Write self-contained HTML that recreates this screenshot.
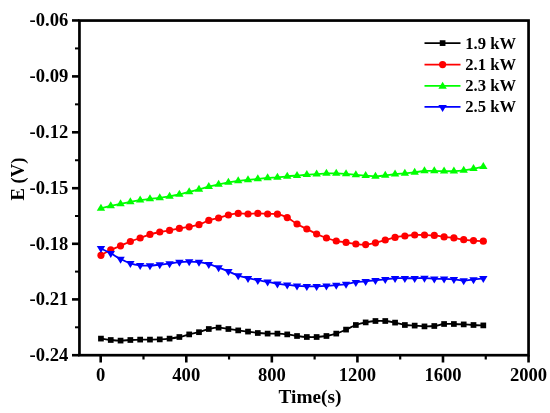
<!DOCTYPE html>
<html><head><meta charset="utf-8"><style>
html,body{margin:0;padding:0;background:#fff;}
body{width:550px;height:413px;overflow:hidden;}
svg{display:block;}
text{font-family:"Liberation Serif","Times New Roman",serif;font-weight:bold;fill:#000;}
.tl{font-size:18.6px;}
.lg{font-size:16.6px;}
.at{font-size:19.3px;}
.ay{font-size:18.6px;}
</style></head><body>
<svg width="550" height="413" viewBox="0 0 550 413">
<rect width="550" height="413" fill="#fff"/>
<path d="M100.95,338.60 C102.58,338.83 107.49,339.67 110.75,340.00 C114.02,340.33 117.29,340.60 120.56,340.60 C123.83,340.60 127.09,340.17 130.36,340.00 C133.63,339.83 136.90,339.67 140.17,339.60 C143.43,339.53 146.70,339.63 149.97,339.60 C153.24,339.57 156.51,339.57 159.77,339.40 C163.04,339.23 166.31,339.00 169.58,338.60 C172.85,338.20 176.11,337.70 179.38,337.00 C182.65,336.30 185.92,335.20 189.19,334.40 C192.45,333.60 195.72,333.10 198.99,332.20 C202.26,331.30 205.53,329.77 208.79,329.00 C212.06,328.23 215.33,327.60 218.60,327.60 C221.87,327.60 225.13,328.53 228.40,329.00 C231.67,329.47 234.94,329.97 238.21,330.40 C241.47,330.83 244.74,331.17 248.01,331.60 C251.28,332.03 254.55,332.67 257.81,333.00 C261.08,333.33 264.35,333.50 267.62,333.60 C270.89,333.70 274.15,333.47 277.42,333.60 C280.69,333.73 283.96,334.00 287.23,334.40 C290.49,334.80 293.76,335.57 297.03,336.00 C300.30,336.43 303.57,336.83 306.83,337.00 C310.10,337.17 313.37,337.17 316.64,337.00 C319.91,336.83 323.17,336.57 326.44,336.00 C329.71,335.43 332.98,334.67 336.25,333.60 C339.51,332.53 342.78,331.03 346.05,329.60 C349.32,328.17 352.59,326.20 355.85,325.00 C359.12,323.80 362.39,323.07 365.66,322.40 C368.93,321.73 372.19,321.23 375.46,321.00 C378.73,320.77 382.00,320.73 385.27,321.00 C388.53,321.27 391.80,321.93 395.07,322.60 C398.34,323.27 401.61,324.50 404.87,325.00 C408.14,325.50 411.41,325.37 414.68,325.60 C417.95,325.83 421.21,326.33 424.48,326.40 C427.75,326.47 431.02,326.40 434.29,326.00 C437.55,325.60 440.82,324.33 444.09,324.00 C447.36,323.67 450.63,323.93 453.89,324.00 C457.16,324.07 460.43,324.23 463.70,324.40 C466.97,324.57 470.23,324.83 473.50,325.00 C476.77,325.17 481.67,325.33 483.31,325.40" fill="none" stroke="#000000" stroke-width="1.8"/>
<rect x="98.10" y="335.75" width="5.7" height="5.7" fill="#000000"/>
<rect x="107.90" y="337.15" width="5.7" height="5.7" fill="#000000"/>
<rect x="117.71" y="337.75" width="5.7" height="5.7" fill="#000000"/>
<rect x="127.51" y="337.15" width="5.7" height="5.7" fill="#000000"/>
<rect x="137.32" y="336.75" width="5.7" height="5.7" fill="#000000"/>
<rect x="147.12" y="336.75" width="5.7" height="5.7" fill="#000000"/>
<rect x="156.92" y="336.55" width="5.7" height="5.7" fill="#000000"/>
<rect x="166.73" y="335.75" width="5.7" height="5.7" fill="#000000"/>
<rect x="176.53" y="334.15" width="5.7" height="5.7" fill="#000000"/>
<rect x="186.34" y="331.55" width="5.7" height="5.7" fill="#000000"/>
<rect x="196.14" y="329.35" width="5.7" height="5.7" fill="#000000"/>
<rect x="205.94" y="326.15" width="5.7" height="5.7" fill="#000000"/>
<rect x="215.75" y="324.75" width="5.7" height="5.7" fill="#000000"/>
<rect x="225.55" y="326.15" width="5.7" height="5.7" fill="#000000"/>
<rect x="235.36" y="327.55" width="5.7" height="5.7" fill="#000000"/>
<rect x="245.16" y="328.75" width="5.7" height="5.7" fill="#000000"/>
<rect x="254.96" y="330.15" width="5.7" height="5.7" fill="#000000"/>
<rect x="264.77" y="330.75" width="5.7" height="5.7" fill="#000000"/>
<rect x="274.57" y="330.75" width="5.7" height="5.7" fill="#000000"/>
<rect x="284.38" y="331.55" width="5.7" height="5.7" fill="#000000"/>
<rect x="294.18" y="333.15" width="5.7" height="5.7" fill="#000000"/>
<rect x="303.98" y="334.15" width="5.7" height="5.7" fill="#000000"/>
<rect x="313.79" y="334.15" width="5.7" height="5.7" fill="#000000"/>
<rect x="323.59" y="333.15" width="5.7" height="5.7" fill="#000000"/>
<rect x="333.40" y="330.75" width="5.7" height="5.7" fill="#000000"/>
<rect x="343.20" y="326.75" width="5.7" height="5.7" fill="#000000"/>
<rect x="353.00" y="322.15" width="5.7" height="5.7" fill="#000000"/>
<rect x="362.81" y="319.55" width="5.7" height="5.7" fill="#000000"/>
<rect x="372.61" y="318.15" width="5.7" height="5.7" fill="#000000"/>
<rect x="382.42" y="318.15" width="5.7" height="5.7" fill="#000000"/>
<rect x="392.22" y="319.75" width="5.7" height="5.7" fill="#000000"/>
<rect x="402.02" y="322.15" width="5.7" height="5.7" fill="#000000"/>
<rect x="411.83" y="322.75" width="5.7" height="5.7" fill="#000000"/>
<rect x="421.63" y="323.55" width="5.7" height="5.7" fill="#000000"/>
<rect x="431.44" y="323.15" width="5.7" height="5.7" fill="#000000"/>
<rect x="441.24" y="321.15" width="5.7" height="5.7" fill="#000000"/>
<rect x="451.04" y="321.15" width="5.7" height="5.7" fill="#000000"/>
<rect x="460.85" y="321.55" width="5.7" height="5.7" fill="#000000"/>
<rect x="470.65" y="322.15" width="5.7" height="5.7" fill="#000000"/>
<rect x="480.46" y="322.55" width="5.7" height="5.7" fill="#000000"/>
<path d="M100.95,255.30 C102.58,254.38 107.49,251.38 110.75,249.80 C114.02,248.22 117.29,247.18 120.56,245.80 C123.83,244.42 127.09,242.80 130.36,241.50 C133.63,240.20 136.90,239.18 140.17,238.00 C143.43,236.82 146.70,235.40 149.97,234.40 C153.24,233.40 156.51,232.67 159.77,232.00 C163.04,231.33 166.31,231.00 169.58,230.40 C172.85,229.80 176.11,229.00 179.38,228.40 C182.65,227.80 185.92,227.42 189.19,226.80 C192.45,226.18 195.72,225.77 198.99,224.70 C202.26,223.63 205.53,221.52 208.79,220.40 C212.06,219.28 215.33,218.90 218.60,218.00 C221.87,217.10 225.13,215.77 228.40,215.00 C231.67,214.23 234.94,213.57 238.21,213.40 C241.47,213.23 244.74,214.00 248.01,214.00 C251.28,214.00 254.55,213.40 257.81,213.40 C261.08,213.40 264.35,213.87 267.62,214.00 C270.89,214.13 274.15,213.60 277.42,214.20 C280.69,214.80 283.96,215.97 287.23,217.60 C290.49,219.23 293.76,222.10 297.03,224.00 C300.30,225.90 303.57,227.33 306.83,229.00 C310.10,230.67 313.37,232.50 316.64,234.00 C319.91,235.50 323.17,236.83 326.44,238.00 C329.71,239.17 332.98,240.27 336.25,241.00 C339.51,241.73 342.78,241.90 346.05,242.40 C349.32,242.90 352.59,243.63 355.85,244.00 C359.12,244.37 362.39,244.80 365.66,244.60 C368.93,244.40 372.19,243.57 375.46,242.80 C378.73,242.03 382.00,240.90 385.27,240.00 C388.53,239.10 391.80,238.07 395.07,237.40 C398.34,236.73 401.61,236.40 404.87,236.00 C408.14,235.60 411.41,235.17 414.68,235.00 C417.95,234.83 421.21,234.93 424.48,235.00 C427.75,235.07 431.02,235.08 434.29,235.40 C437.55,235.72 440.82,236.48 444.09,236.90 C447.36,237.32 450.63,237.43 453.89,237.90 C457.16,238.37 460.43,239.25 463.70,239.70 C466.97,240.15 470.23,240.35 473.50,240.60 C476.77,240.85 481.67,241.10 483.31,241.20" fill="none" stroke="#ff0000" stroke-width="1.8"/>
<circle cx="100.95" cy="255.30" r="3.60" fill="#ff0000"/>
<circle cx="110.75" cy="249.80" r="3.60" fill="#ff0000"/>
<circle cx="120.56" cy="245.80" r="3.60" fill="#ff0000"/>
<circle cx="130.36" cy="241.50" r="3.60" fill="#ff0000"/>
<circle cx="140.17" cy="238.00" r="3.60" fill="#ff0000"/>
<circle cx="149.97" cy="234.40" r="3.60" fill="#ff0000"/>
<circle cx="159.77" cy="232.00" r="3.60" fill="#ff0000"/>
<circle cx="169.58" cy="230.40" r="3.60" fill="#ff0000"/>
<circle cx="179.38" cy="228.40" r="3.60" fill="#ff0000"/>
<circle cx="189.19" cy="226.80" r="3.60" fill="#ff0000"/>
<circle cx="198.99" cy="224.70" r="3.60" fill="#ff0000"/>
<circle cx="208.79" cy="220.40" r="3.60" fill="#ff0000"/>
<circle cx="218.60" cy="218.00" r="3.60" fill="#ff0000"/>
<circle cx="228.40" cy="215.00" r="3.60" fill="#ff0000"/>
<circle cx="238.21" cy="213.40" r="3.60" fill="#ff0000"/>
<circle cx="248.01" cy="214.00" r="3.60" fill="#ff0000"/>
<circle cx="257.81" cy="213.40" r="3.60" fill="#ff0000"/>
<circle cx="267.62" cy="214.00" r="3.60" fill="#ff0000"/>
<circle cx="277.42" cy="214.20" r="3.60" fill="#ff0000"/>
<circle cx="287.23" cy="217.60" r="3.60" fill="#ff0000"/>
<circle cx="297.03" cy="224.00" r="3.60" fill="#ff0000"/>
<circle cx="306.83" cy="229.00" r="3.60" fill="#ff0000"/>
<circle cx="316.64" cy="234.00" r="3.60" fill="#ff0000"/>
<circle cx="326.44" cy="238.00" r="3.60" fill="#ff0000"/>
<circle cx="336.25" cy="241.00" r="3.60" fill="#ff0000"/>
<circle cx="346.05" cy="242.40" r="3.60" fill="#ff0000"/>
<circle cx="355.85" cy="244.00" r="3.60" fill="#ff0000"/>
<circle cx="365.66" cy="244.60" r="3.60" fill="#ff0000"/>
<circle cx="375.46" cy="242.80" r="3.60" fill="#ff0000"/>
<circle cx="385.27" cy="240.00" r="3.60" fill="#ff0000"/>
<circle cx="395.07" cy="237.40" r="3.60" fill="#ff0000"/>
<circle cx="404.87" cy="236.00" r="3.60" fill="#ff0000"/>
<circle cx="414.68" cy="235.00" r="3.60" fill="#ff0000"/>
<circle cx="424.48" cy="235.00" r="3.60" fill="#ff0000"/>
<circle cx="434.29" cy="235.40" r="3.60" fill="#ff0000"/>
<circle cx="444.09" cy="236.90" r="3.60" fill="#ff0000"/>
<circle cx="453.89" cy="237.90" r="3.60" fill="#ff0000"/>
<circle cx="463.70" cy="239.70" r="3.60" fill="#ff0000"/>
<circle cx="473.50" cy="240.60" r="3.60" fill="#ff0000"/>
<circle cx="483.31" cy="241.20" r="3.60" fill="#ff0000"/>
<path d="M100.95,208.37 C102.58,207.97 107.49,206.72 110.75,205.97 C114.02,205.22 117.29,204.55 120.56,203.87 C123.83,203.18 127.09,202.48 130.36,201.87 C133.63,201.25 136.90,200.67 140.17,200.17 C143.43,199.67 146.70,199.25 149.97,198.87 C153.24,198.48 156.51,198.28 159.77,197.87 C163.04,197.45 166.31,196.93 169.58,196.37 C172.85,195.80 176.11,195.22 179.38,194.47 C182.65,193.72 185.92,192.70 189.19,191.87 C192.45,191.03 195.72,190.35 198.99,189.47 C202.26,188.58 205.53,187.42 208.79,186.57 C212.06,185.72 215.33,185.07 218.60,184.37 C221.87,183.67 225.13,182.95 228.40,182.37 C231.67,181.78 234.94,181.28 238.21,180.87 C241.47,180.45 244.74,180.20 248.01,179.87 C251.28,179.53 254.55,179.20 257.81,178.87 C261.08,178.53 264.35,178.12 267.62,177.87 C270.89,177.62 274.15,177.62 277.42,177.37 C280.69,177.12 283.96,176.67 287.23,176.37 C290.49,176.07 293.76,175.83 297.03,175.57 C300.30,175.30 303.57,175.00 306.83,174.77 C310.10,174.53 313.37,174.38 316.64,174.17 C319.91,173.95 323.17,173.60 326.44,173.47 C329.71,173.33 332.98,173.30 336.25,173.37 C339.51,173.43 342.78,173.60 346.05,173.87 C349.32,174.13 352.59,174.67 355.85,174.97 C359.12,175.27 362.39,175.43 365.66,175.67 C368.93,175.90 372.19,176.42 375.46,176.37 C378.73,176.32 382.00,175.72 385.27,175.37 C388.53,175.02 391.80,174.60 395.07,174.27 C398.34,173.93 401.61,173.68 404.87,173.37 C408.14,173.05 411.41,172.77 414.68,172.37 C417.95,171.97 421.21,171.20 424.48,170.97 C427.75,170.73 431.02,170.93 434.29,170.97 C437.55,171.00 440.82,171.13 444.09,171.17 C447.36,171.20 450.63,171.30 453.89,171.17 C457.16,171.03 460.43,170.78 463.70,170.37 C466.97,169.95 470.23,169.28 473.50,168.67 C476.77,168.05 481.67,167.00 483.31,166.67" fill="none" stroke="#00ff00" stroke-width="1.8"/>
<path d="M100.95,203.70L105.15,210.70L96.75,210.70Z" fill="#00ff00"/>
<path d="M110.75,201.30L114.95,208.30L106.55,208.30Z" fill="#00ff00"/>
<path d="M120.56,199.20L124.76,206.20L116.36,206.20Z" fill="#00ff00"/>
<path d="M130.36,197.20L134.56,204.20L126.16,204.20Z" fill="#00ff00"/>
<path d="M140.17,195.50L144.37,202.50L135.97,202.50Z" fill="#00ff00"/>
<path d="M149.97,194.20L154.17,201.20L145.77,201.20Z" fill="#00ff00"/>
<path d="M159.77,193.20L163.97,200.20L155.57,200.20Z" fill="#00ff00"/>
<path d="M169.58,191.70L173.78,198.70L165.38,198.70Z" fill="#00ff00"/>
<path d="M179.38,189.80L183.58,196.80L175.18,196.80Z" fill="#00ff00"/>
<path d="M189.19,187.20L193.39,194.20L184.99,194.20Z" fill="#00ff00"/>
<path d="M198.99,184.80L203.19,191.80L194.79,191.80Z" fill="#00ff00"/>
<path d="M208.79,181.90L212.99,188.90L204.59,188.90Z" fill="#00ff00"/>
<path d="M218.60,179.70L222.80,186.70L214.40,186.70Z" fill="#00ff00"/>
<path d="M228.40,177.70L232.60,184.70L224.20,184.70Z" fill="#00ff00"/>
<path d="M238.21,176.20L242.41,183.20L234.01,183.20Z" fill="#00ff00"/>
<path d="M248.01,175.20L252.21,182.20L243.81,182.20Z" fill="#00ff00"/>
<path d="M257.81,174.20L262.01,181.20L253.61,181.20Z" fill="#00ff00"/>
<path d="M267.62,173.20L271.82,180.20L263.42,180.20Z" fill="#00ff00"/>
<path d="M277.42,172.70L281.62,179.70L273.22,179.70Z" fill="#00ff00"/>
<path d="M287.23,171.70L291.43,178.70L283.03,178.70Z" fill="#00ff00"/>
<path d="M297.03,170.90L301.23,177.90L292.83,177.90Z" fill="#00ff00"/>
<path d="M306.83,170.10L311.03,177.10L302.63,177.10Z" fill="#00ff00"/>
<path d="M316.64,169.50L320.84,176.50L312.44,176.50Z" fill="#00ff00"/>
<path d="M326.44,168.80L330.64,175.80L322.24,175.80Z" fill="#00ff00"/>
<path d="M336.25,168.70L340.45,175.70L332.05,175.70Z" fill="#00ff00"/>
<path d="M346.05,169.20L350.25,176.20L341.85,176.20Z" fill="#00ff00"/>
<path d="M355.85,170.30L360.05,177.30L351.65,177.30Z" fill="#00ff00"/>
<path d="M365.66,171.00L369.86,178.00L361.46,178.00Z" fill="#00ff00"/>
<path d="M375.46,171.70L379.66,178.70L371.26,178.70Z" fill="#00ff00"/>
<path d="M385.27,170.70L389.47,177.70L381.07,177.70Z" fill="#00ff00"/>
<path d="M395.07,169.60L399.27,176.60L390.87,176.60Z" fill="#00ff00"/>
<path d="M404.87,168.70L409.07,175.70L400.67,175.70Z" fill="#00ff00"/>
<path d="M414.68,167.70L418.88,174.70L410.48,174.70Z" fill="#00ff00"/>
<path d="M424.48,166.30L428.68,173.30L420.28,173.30Z" fill="#00ff00"/>
<path d="M434.29,166.30L438.49,173.30L430.09,173.30Z" fill="#00ff00"/>
<path d="M444.09,166.50L448.29,173.50L439.89,173.50Z" fill="#00ff00"/>
<path d="M453.89,166.50L458.09,173.50L449.69,173.50Z" fill="#00ff00"/>
<path d="M463.70,165.70L467.90,172.70L459.50,172.70Z" fill="#00ff00"/>
<path d="M473.50,164.00L477.70,171.00L469.30,171.00Z" fill="#00ff00"/>
<path d="M483.31,162.00L487.51,169.00L479.11,169.00Z" fill="#00ff00"/>
<path d="M100.95,248.43 C102.58,249.25 107.49,251.57 110.75,253.33 C114.02,255.10 117.29,257.37 120.56,259.03 C123.83,260.70 127.09,262.28 130.36,263.33 C133.63,264.38 136.90,264.95 140.17,265.33 C143.43,265.72 146.70,265.75 149.97,265.63 C153.24,265.52 156.51,264.97 159.77,264.63 C163.04,264.30 166.31,264.07 169.58,263.63 C172.85,263.20 176.11,262.37 179.38,262.03 C182.65,261.70 185.92,261.62 189.19,261.63 C192.45,261.65 195.72,261.70 198.99,262.13 C202.26,262.57 205.53,263.32 208.79,264.23 C212.06,265.15 215.33,266.43 218.60,267.63 C221.87,268.83 225.13,270.10 228.40,271.43 C231.67,272.77 234.94,274.50 238.21,275.63 C241.47,276.77 244.74,277.47 248.01,278.23 C251.28,279.00 254.55,279.63 257.81,280.23 C261.08,280.83 264.35,281.23 267.62,281.83 C270.89,282.43 274.15,283.33 277.42,283.83 C280.69,284.33 283.96,284.50 287.23,284.83 C290.49,285.17 293.76,285.60 297.03,285.83 C300.30,286.07 303.57,286.17 306.83,286.23 C310.10,286.30 313.37,286.30 316.64,286.23 C319.91,286.17 323.17,286.03 326.44,285.83 C329.71,285.63 332.98,285.33 336.25,285.03 C339.51,284.73 342.78,284.50 346.05,284.03 C349.32,283.57 352.59,282.70 355.85,282.23 C359.12,281.77 362.39,281.57 365.66,281.23 C368.93,280.90 372.19,280.53 375.46,280.23 C378.73,279.93 382.00,279.77 385.27,279.43 C388.53,279.10 391.80,278.43 395.07,278.23 C398.34,278.03 401.61,278.23 404.87,278.23 C408.14,278.23 411.41,278.27 414.68,278.23 C417.95,278.20 421.21,277.95 424.48,278.03 C427.75,278.12 431.02,278.58 434.29,278.73 C437.55,278.88 440.82,278.82 444.09,278.93 C447.36,279.05 450.63,279.17 453.89,279.43 C457.16,279.70 460.43,280.52 463.70,280.53 C466.97,280.55 470.23,279.90 473.50,279.53 C476.77,279.17 481.67,278.53 483.31,278.33" fill="none" stroke="#0000ff" stroke-width="1.8"/>
<path d="M100.95,253.10L105.15,246.10L96.75,246.10Z" fill="#0000ff"/>
<path d="M110.75,258.00L114.95,251.00L106.55,251.00Z" fill="#0000ff"/>
<path d="M120.56,263.70L124.76,256.70L116.36,256.70Z" fill="#0000ff"/>
<path d="M130.36,268.00L134.56,261.00L126.16,261.00Z" fill="#0000ff"/>
<path d="M140.17,270.00L144.37,263.00L135.97,263.00Z" fill="#0000ff"/>
<path d="M149.97,270.30L154.17,263.30L145.77,263.30Z" fill="#0000ff"/>
<path d="M159.77,269.30L163.97,262.30L155.57,262.30Z" fill="#0000ff"/>
<path d="M169.58,268.30L173.78,261.30L165.38,261.30Z" fill="#0000ff"/>
<path d="M179.38,266.70L183.58,259.70L175.18,259.70Z" fill="#0000ff"/>
<path d="M189.19,266.30L193.39,259.30L184.99,259.30Z" fill="#0000ff"/>
<path d="M198.99,266.80L203.19,259.80L194.79,259.80Z" fill="#0000ff"/>
<path d="M208.79,268.90L212.99,261.90L204.59,261.90Z" fill="#0000ff"/>
<path d="M218.60,272.30L222.80,265.30L214.40,265.30Z" fill="#0000ff"/>
<path d="M228.40,276.10L232.60,269.10L224.20,269.10Z" fill="#0000ff"/>
<path d="M238.21,280.30L242.41,273.30L234.01,273.30Z" fill="#0000ff"/>
<path d="M248.01,282.90L252.21,275.90L243.81,275.90Z" fill="#0000ff"/>
<path d="M257.81,284.90L262.01,277.90L253.61,277.90Z" fill="#0000ff"/>
<path d="M267.62,286.50L271.82,279.50L263.42,279.50Z" fill="#0000ff"/>
<path d="M277.42,288.50L281.62,281.50L273.22,281.50Z" fill="#0000ff"/>
<path d="M287.23,289.50L291.43,282.50L283.03,282.50Z" fill="#0000ff"/>
<path d="M297.03,290.50L301.23,283.50L292.83,283.50Z" fill="#0000ff"/>
<path d="M306.83,290.90L311.03,283.90L302.63,283.90Z" fill="#0000ff"/>
<path d="M316.64,290.90L320.84,283.90L312.44,283.90Z" fill="#0000ff"/>
<path d="M326.44,290.50L330.64,283.50L322.24,283.50Z" fill="#0000ff"/>
<path d="M336.25,289.70L340.45,282.70L332.05,282.70Z" fill="#0000ff"/>
<path d="M346.05,288.70L350.25,281.70L341.85,281.70Z" fill="#0000ff"/>
<path d="M355.85,286.90L360.05,279.90L351.65,279.90Z" fill="#0000ff"/>
<path d="M365.66,285.90L369.86,278.90L361.46,278.90Z" fill="#0000ff"/>
<path d="M375.46,284.90L379.66,277.90L371.26,277.90Z" fill="#0000ff"/>
<path d="M385.27,284.10L389.47,277.10L381.07,277.10Z" fill="#0000ff"/>
<path d="M395.07,282.90L399.27,275.90L390.87,275.90Z" fill="#0000ff"/>
<path d="M404.87,282.90L409.07,275.90L400.67,275.90Z" fill="#0000ff"/>
<path d="M414.68,282.90L418.88,275.90L410.48,275.90Z" fill="#0000ff"/>
<path d="M424.48,282.70L428.68,275.70L420.28,275.70Z" fill="#0000ff"/>
<path d="M434.29,283.40L438.49,276.40L430.09,276.40Z" fill="#0000ff"/>
<path d="M444.09,283.60L448.29,276.60L439.89,276.60Z" fill="#0000ff"/>
<path d="M453.89,284.10L458.09,277.10L449.69,277.10Z" fill="#0000ff"/>
<path d="M463.70,285.20L467.90,278.20L459.50,278.20Z" fill="#0000ff"/>
<path d="M473.50,284.20L477.70,277.20L469.30,277.20Z" fill="#0000ff"/>
<path d="M483.31,283.00L487.51,276.00L479.11,276.00Z" fill="#0000ff"/>
<rect x="79.45" y="20.55" width="449.10" height="334.65" fill="none" stroke="#000" stroke-width="2.7"/>
<line x1="72" y1="20.45" x2="79.45" y2="20.45" stroke="#000" stroke-width="2.6"/>
<text x="68.3" y="26.45" text-anchor="end" class="tl">-0.06</text>
<line x1="75" y1="48.43" x2="79.45" y2="48.43" stroke="#000" stroke-width="2"/>
<line x1="72" y1="76.40" x2="79.45" y2="76.40" stroke="#000" stroke-width="2.6"/>
<text x="68.3" y="82.40" text-anchor="end" class="tl">-0.09</text>
<line x1="75" y1="104.35" x2="79.45" y2="104.35" stroke="#000" stroke-width="2"/>
<line x1="72" y1="132.30" x2="79.45" y2="132.30" stroke="#000" stroke-width="2.6"/>
<text x="68.3" y="138.30" text-anchor="end" class="tl">-0.12</text>
<line x1="75" y1="160.25" x2="79.45" y2="160.25" stroke="#000" stroke-width="2"/>
<line x1="72" y1="188.20" x2="79.45" y2="188.20" stroke="#000" stroke-width="2.6"/>
<text x="68.3" y="194.20" text-anchor="end" class="tl">-0.15</text>
<line x1="75" y1="216.00" x2="79.45" y2="216.00" stroke="#000" stroke-width="2"/>
<line x1="72" y1="243.80" x2="79.45" y2="243.80" stroke="#000" stroke-width="2.6"/>
<text x="68.3" y="249.80" text-anchor="end" class="tl">-0.18</text>
<line x1="75" y1="271.60" x2="79.45" y2="271.60" stroke="#000" stroke-width="2"/>
<line x1="72" y1="299.40" x2="79.45" y2="299.40" stroke="#000" stroke-width="2.6"/>
<text x="68.3" y="305.40" text-anchor="end" class="tl">-0.21</text>
<line x1="75" y1="327.30" x2="79.45" y2="327.30" stroke="#000" stroke-width="2"/>
<line x1="72" y1="355.20" x2="79.45" y2="355.20" stroke="#000" stroke-width="2.6"/>
<text x="68.3" y="361.20" text-anchor="end" class="tl">-0.24</text>
<line x1="100.70" y1="355.20" x2="100.70" y2="362.50" stroke="#000" stroke-width="2.6"/>
<text x="100.70" y="380.7" text-anchor="middle" class="tl">0</text>
<line x1="143.49" y1="355.20" x2="143.49" y2="359.50" stroke="#000" stroke-width="2.2"/>
<line x1="186.27" y1="355.20" x2="186.27" y2="362.50" stroke="#000" stroke-width="2.6"/>
<text x="186.27" y="380.7" text-anchor="middle" class="tl">400</text>
<line x1="229.06" y1="355.20" x2="229.06" y2="359.50" stroke="#000" stroke-width="2.2"/>
<line x1="271.84" y1="355.20" x2="271.84" y2="362.50" stroke="#000" stroke-width="2.6"/>
<text x="271.84" y="380.7" text-anchor="middle" class="tl">800</text>
<line x1="314.62" y1="355.20" x2="314.62" y2="359.50" stroke="#000" stroke-width="2.2"/>
<line x1="357.41" y1="355.20" x2="357.41" y2="362.50" stroke="#000" stroke-width="2.6"/>
<text x="357.41" y="380.7" text-anchor="middle" class="tl">1200</text>
<line x1="400.19" y1="355.20" x2="400.19" y2="359.50" stroke="#000" stroke-width="2.2"/>
<line x1="442.98" y1="355.20" x2="442.98" y2="362.50" stroke="#000" stroke-width="2.6"/>
<text x="442.98" y="380.7" text-anchor="middle" class="tl">1600</text>
<line x1="485.76" y1="355.20" x2="485.76" y2="359.50" stroke="#000" stroke-width="2.2"/>
<line x1="528.55" y1="355.20" x2="528.55" y2="362.50" stroke="#000" stroke-width="2.6"/>
<text x="528.55" y="380.7" text-anchor="middle" class="tl">2000</text>
<line x1="424.5" y1="43.10" x2="460.5" y2="43.10" stroke="#000000" stroke-width="1.8"/>
<rect x="439.75" y="40.25" width="5.7" height="5.7" fill="#000000"/>
<text x="465.3" y="48.60" class="lg">1.9 kW</text>
<line x1="424.5" y1="64.60" x2="460.5" y2="64.60" stroke="#ff0000" stroke-width="1.8"/>
<circle cx="442.60" cy="64.60" r="3.60" fill="#ff0000"/>
<text x="465.3" y="70.10" class="lg">2.1 kW</text>
<line x1="424.5" y1="85.80" x2="460.5" y2="85.80" stroke="#00ff00" stroke-width="1.8"/>
<path d="M442.60,81.70L446.80,88.70L438.40,88.70Z" fill="#00ff00"/>
<text x="465.3" y="91.30" class="lg">2.3 kW</text>
<line x1="424.5" y1="106.90" x2="460.5" y2="106.90" stroke="#0000ff" stroke-width="1.8"/>
<path d="M442.60,111.90L446.80,104.90L438.40,104.90Z" fill="#0000ff"/>
<text x="465.3" y="112.40" class="lg">2.5 kW</text>
<text x="310" y="403.2" text-anchor="middle" class="at">Time(s)</text>
<text transform="translate(24.2,179) rotate(-90)" text-anchor="middle" class="ay">E (V)</text>
</svg>
</body></html>
